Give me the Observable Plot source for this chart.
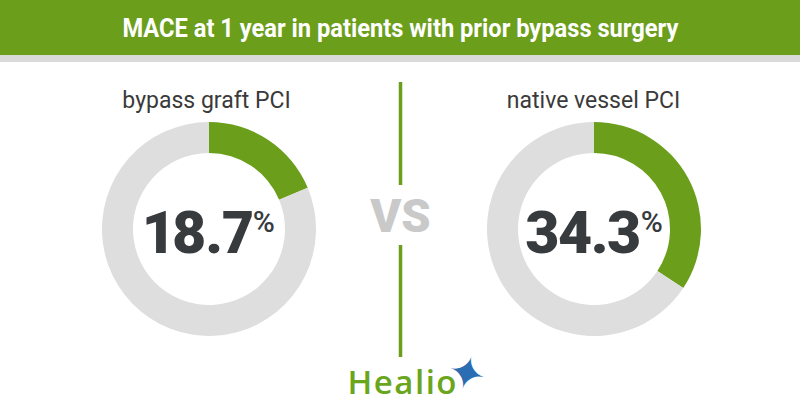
<!DOCTYPE html>
<html><head><meta charset="utf-8">
<script src="https://cdn.jsdelivr.net/npm/d3@7"></script>
<script src="https://cdn.jsdelivr.net/npm/@observablehq/plot@0.6"></script>
<style>
html,body{margin:0;padding:0;background:#fff;}
body{width:800px;height:420px;overflow:hidden;font-family:Roboto,"Noto Sans",sans-serif;}
#header{height:55px;background:#6b9e1b;border-bottom:7px solid #dadada;display:flex;align-items:center;justify-content:center;overflow:hidden;}
#title{color:#fff;font-weight:700;font-size:26px;display:inline-block;white-space:nowrap;transform-origin:center;}
#chart svg{display:block;}
.num{font-variant-numeric:proportional-nums;letter-spacing:-1.5px;}
</style></head><body>
<div id="header"><span id="title"></span></div>
<div id="chart"></div>
<script>
// ---- data ----
const title = "MACE at 1 year in patients with prior bypass surgery";
const groups = ["bypass graft PCI", "native vessel PCI"];
const maceRates = [18.7, 34.3];   // % MACE at 1 year
const vsLabel = "VS";
const brand = "Healio";

// ---- layout / style ----
const W = 800, H = 358;
const centersX = [209, 594];
const labelX = [206, 593];
const cy = 167, rOuter = 107, rInner = 76;
const green = "#6b9e1b", ringGray = "#dedede", ink = "#373b3e";
const numSize = 59;

const rows = groups.map((g, i) => ({group: g, rate: maceRates[i], cx: centersX[i], lx: labelX[i]}));

// title
const t = document.getElementById("title");
t.textContent = title;
const tw = t.getBoundingClientRect().width;
t.style.transform = `scaleX(${556 / tw})`;

// measure number width (same styling as rendered) for placing the % sign
const tmp = d3.select("body").append("svg").attr("width", 10).attr("height", 10)
  .style("position", "absolute").style("left", "-1000px");
const numWidths = rows.map(r => {
  const n = tmp.append("text").attr("class", "num")
    .attr("font-family", "Roboto, sans-serif").attr("font-size", numSize).attr("font-weight", 900)
    .text(r.rate.toFixed(1)).node();
  return n.getComputedTextLength();
});
tmp.remove();
rows.forEach((r, i) => r.nw = numWidths[i]);

function donuts(index, scales) {
  const g = d3.create("svg:g");
  const sx = scales.x, sy = scales.y;
  const arc = d3.arc().innerRadius(rInner).outerRadius(rOuter);
  for (const r of rows) {
    const pie = d3.pie().sort(null)([r.rate, 100 - r.rate]);
    g.append("g")
      .attr("transform", `translate(${sx(r.cx)},${sy(cy)})`)
      .selectAll("path").data(pie).join("path")
      .attr("d", arc)
      .attr("fill", (d, i) => i === 0 ? green : ringGray);
  }
  return g.node();
}

const vsRows = [{label: vsLabel, x: 400, y: 154}];
const dividers = [{y1: 20, y2: 123}, {y1: 183, y2: 295}];

const chart = Plot.plot({
  width: W, height: H, margin: 0,
  x: {domain: [0, W], range: [0, W], axis: null},
  y: {domain: [0, H], range: [0, H], axis: null},
  style: {fontFamily: "Roboto, sans-serif", background: "white"},
  marks: [
    donuts,
    Plot.text(rows, {x: "lx", y: 45, text: "group", fontSize: 23, fill: "#3a3a3a", lineAnchor: "bottom"}),
    Plot.text(rows, {x: d => d.cx - 12, y: 190, text: d => d.rate.toFixed(1), fontSize: numSize, fontWeight: 900, fill: ink, lineAnchor: "bottom", textAnchor: "middle", className: "num"}),
    Plot.text(rows, {x: d => d.cx - 12 + d.nw / 2 + 1, y: 169, text: () => "%", fontSize: 30, fontWeight: 500, fill: ink, lineAnchor: "bottom", textAnchor: "start"}),
    Plot.ruleX(dividers, {x: 400, y1: "y1", y2: "y2", stroke: green, strokeWidth: 3.5}),
    Plot.text(vsRows, {x: "x", y: "y", text: "label", fontSize: 47, fontWeight: 900, fill: "#c9c9c9", lineAnchor: "middle"}),
    Plot.text([brand], {x: 347, y: 331, text: d => d, fontSize: 33, fontWeight: 600, fontFamily: "Open Sans, sans-serif", fill: "#6aa51e", lineAnchor: "bottom", textAnchor: "start", className: "brand"}),
    Plot.text(["✦"], {x: 466, y: 312, text: d => d, fontSize: 46, fontFamily: "DejaVu Sans", fill: "#2a6db2", rotate: 15, lineAnchor: "middle"})
  ]
});
document.getElementById("chart").append(chart);
d3.select(chart).selectAll(".num text, text.num").classed("num", true);
d3.select(chart).selectAll(".brand text, text.brand").style("letter-spacing", "1.5px");
</script>
</body></html>
